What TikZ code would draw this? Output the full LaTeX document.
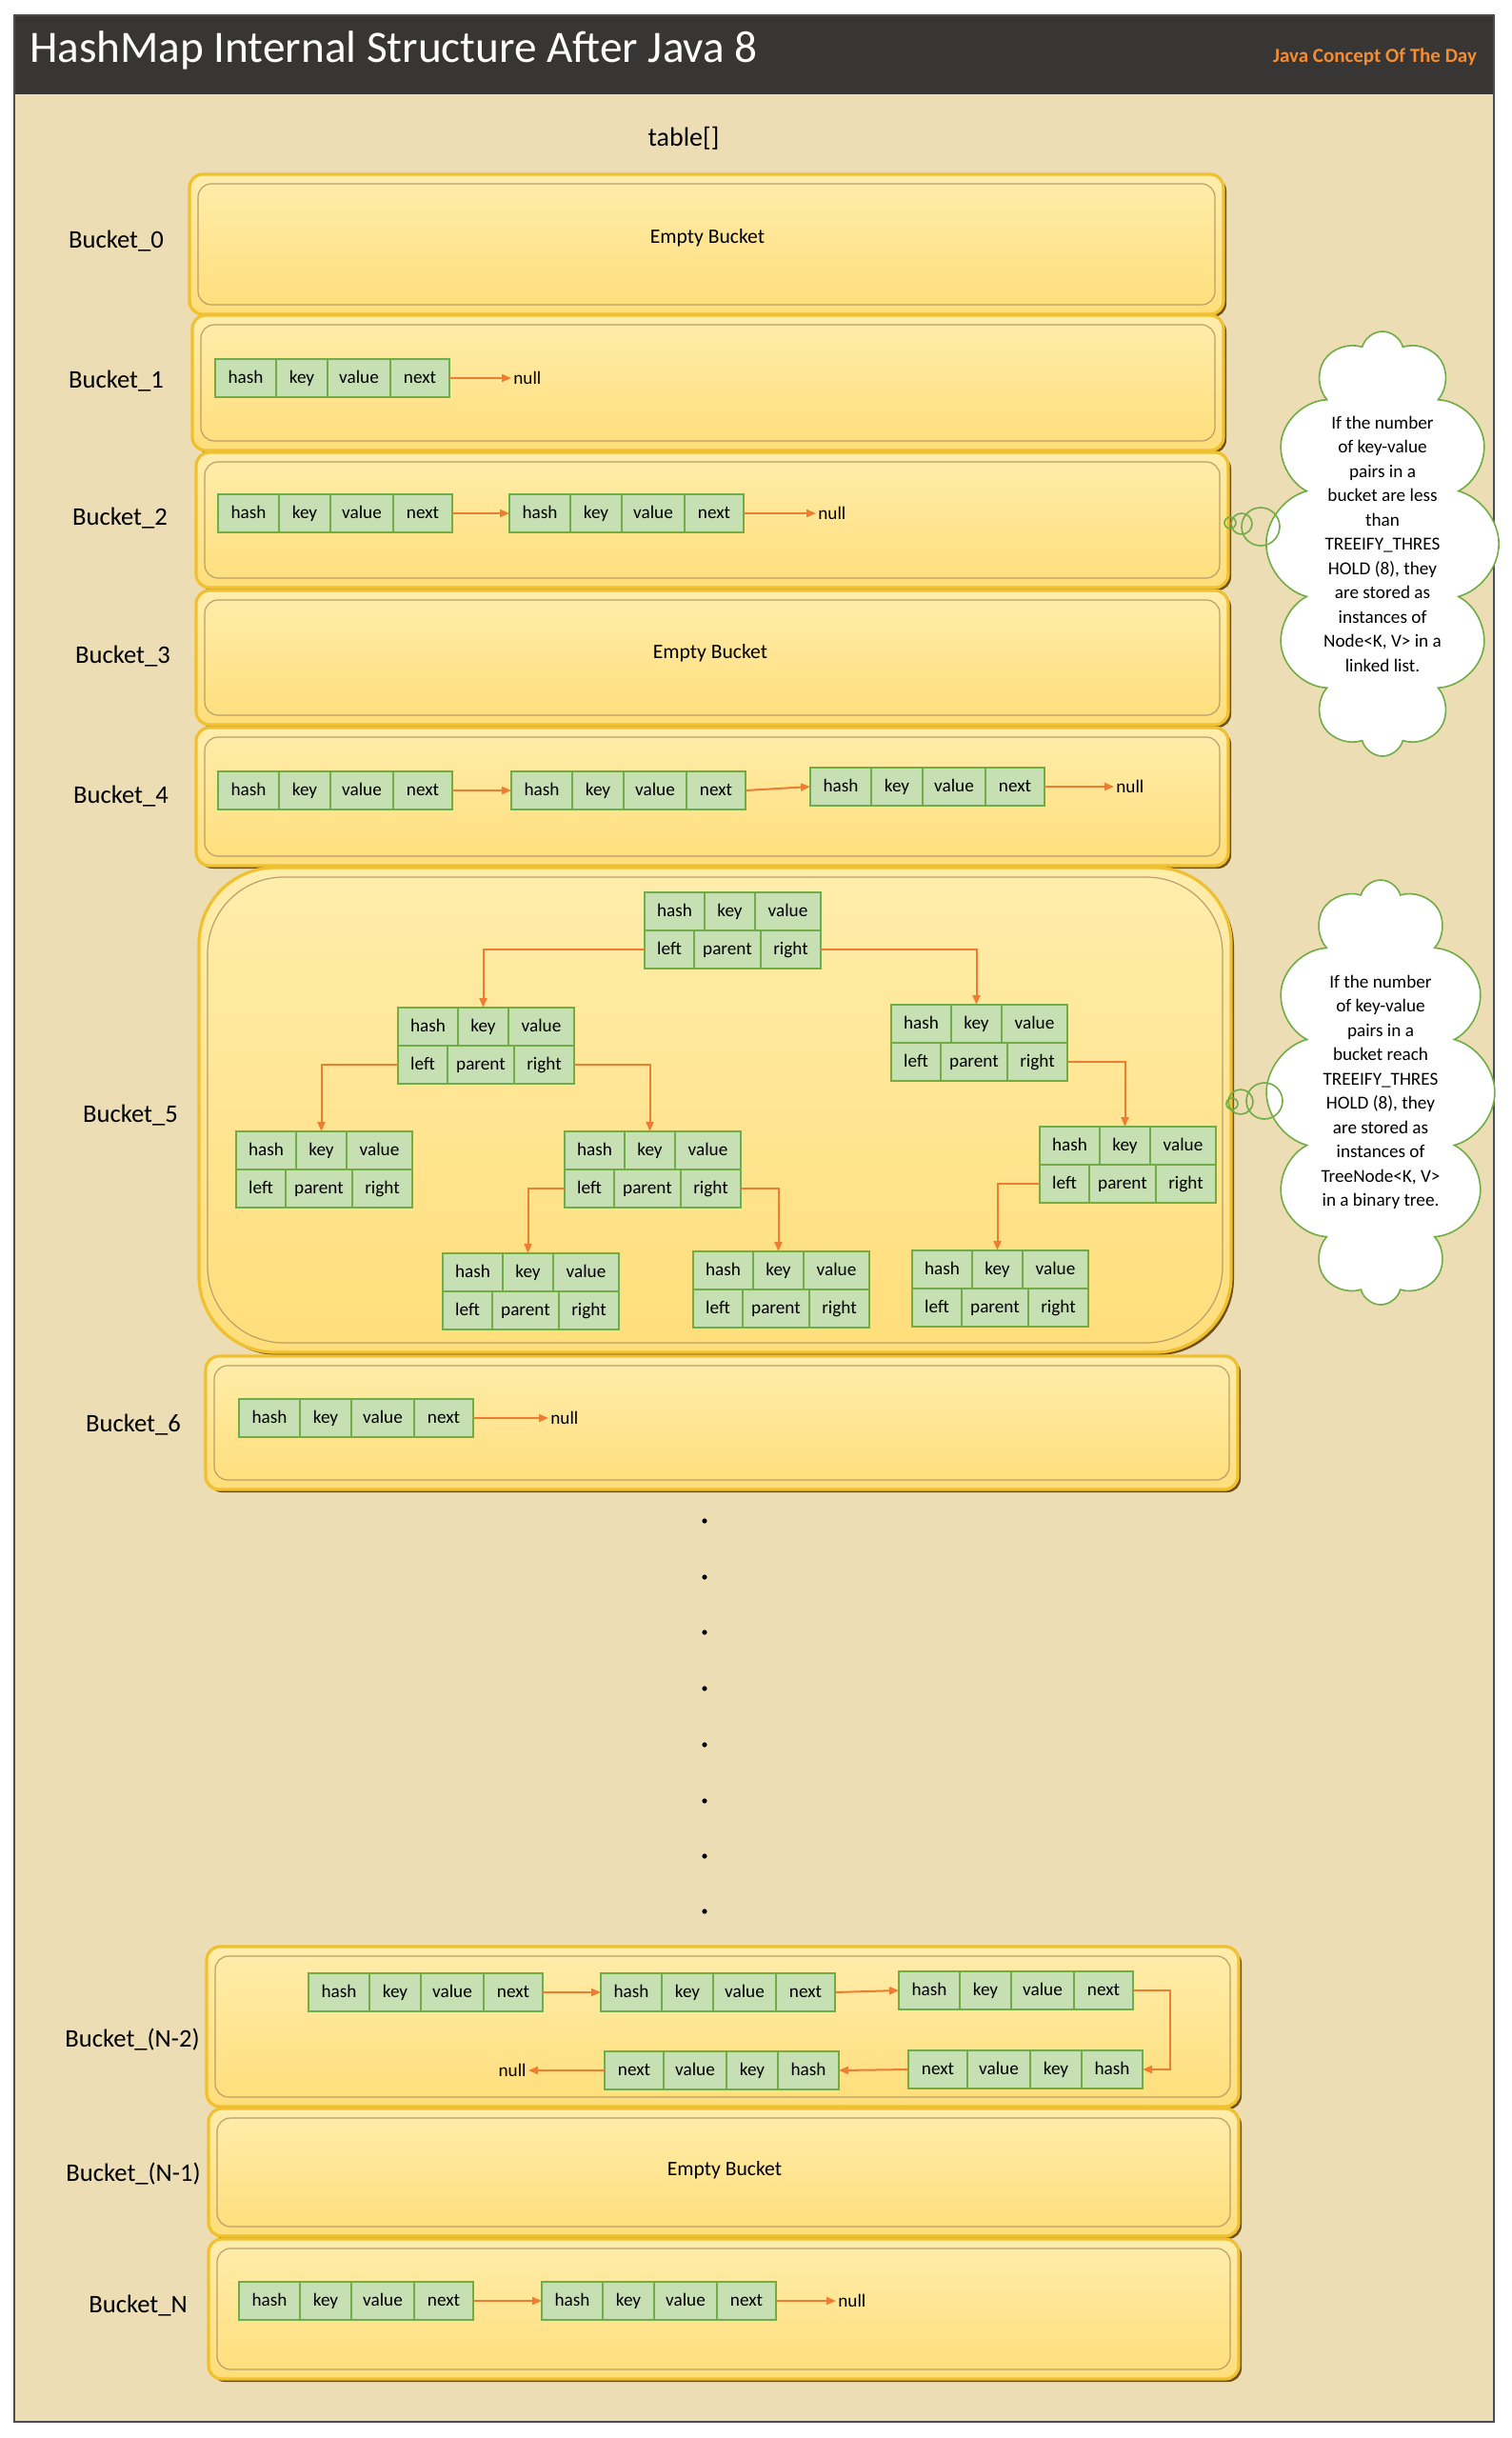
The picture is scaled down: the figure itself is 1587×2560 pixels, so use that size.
\documentclass[tikz,border=0pt]{standalone}
\usepackage{fontspec}
\setmainfont{Carlito}
\usetikzlibrary{arrows.meta,positioning,shapes.symbols,calc}
\definecolor{mapbar}{RGB}{56,54,52}
\definecolor{mappaper}{RGB}{236,221,180}
\definecolor{mapgold}{RGB}{240,192,48}
\definecolor{mapedge}{RGB}{110,80,20}
\definecolor{mapinset}{RGB}{185,160,105}
\definecolor{maptop}{RGB}{255,237,172}
\definecolor{mapbottom}{RGB}{255,222,122}
\definecolor{cellfill}{RGB}{198,224,180}
\definecolor{celldraw}{RGB}{112,173,71}
\definecolor{linkorange}{RGB}{237,125,49}
\definecolor{brandorange}{RGB}{244,140,50}

% one entry of a bucket list: hash | key | value | next
\newcommand{\listnode}[2]{%
  \node[cell,anchor=west,minimum width=32pt] (#1h) at (#2) {hash};
  \node[cell,right=0pt of #1h,minimum width=27pt] (#1k) {key};
  \node[cell,right=0pt of #1k,minimum width=33pt] (#1v) {value};
  \node[cell,right=0pt of #1v,minimum width=31pt] (#1n) {next};
}
% same entry written backwards: next | value | key | hash
\newcommand{\backnode}[2]{%
  \node[cell,anchor=west,minimum width=31pt] (#1n) at (#2) {next};
  \node[cell,right=0pt of #1n,minimum width=33pt] (#1v) {value};
  \node[cell,right=0pt of #1v,minimum width=27pt] (#1k) {key};
  \node[cell,right=0pt of #1k,minimum width=32pt] (#1h) {hash};
}
% tree entry, two rows
\newcommand{\treenode}[2]{%
  \node[cell,anchor=north west,minimum width=31.5pt] (#1h) at (#2) {hash};
  \node[cell,right=0pt of #1h,minimum width=26.5pt] (#1k) {key};
  \node[cell,right=0pt of #1k,minimum width=34.5pt] (#1v) {value};
  \node[cell,anchor=north west,minimum width=26pt] (#1l) at (#1h.south west) {left};
  \node[cell,right=0pt of #1l,minimum width=35pt] (#1p) {parent};
  \node[cell,right=0pt of #1p,minimum width=31.5pt] (#1r) {right};
}
% golden bucket panel: radius, top left, bottom right
\newcommand{\bucketbox}[3]{%
  \fill[mapedge,rounded corners=#1] ($(#2)+(3,3)$) rectangle ($(#3)+(3,3)$);
  \shadedraw[top color=maptop,bottom color=mapbottom,draw=mapgold,line width=1.6pt,rounded corners=#1] (#2) rectangle (#3);
  \draw[mapinset,line width=0.6pt,rounded corners=#1] ($(#2)+(9,10)$) rectangle ($(#3)-(9,10)$);
}

\begin{document}
\begin{tikzpicture}[
  x=0.5pt,y=-0.5pt,
  cell/.style={draw=celldraw,fill=cellfill,line width=0.6pt,minimum height=20pt,
    inner sep=1pt,outer sep=0pt,text height=7pt,text depth=2pt,font=\fontsize{9.6}{11}\selectfont},
  link/.style={-{Triangle[length=5pt,width=4pt]},draw=linkorange,line width=1pt},
  nulltext/.style={inner sep=1pt,font=\fontsize{9.6}{11}\selectfont},
  bucketlabel/.style={font=\fontsize{13.3}{15}\selectfont},
  emptytext/.style={font=\fontsize{10.8}{13}\selectfont},
  note/.style={cloud,cloud puffs=12,cloud ignores aspect,draw=celldraw,fill=white,line width=0.8pt,
    minimum width=117pt,minimum height=223pt,inner sep=0pt,align=center,
    font=\fontsize{9.6}{12.75}\selectfont},
  bubble/.style={circle,draw=celldraw,line width=0.8pt,inner sep=0pt}
]
\useasboundingbox (0,0) rectangle (1587,2560);
\fill[white] (0,0) rectangle (1587,2560);
\fill[mappaper] (15,99) rectangle (1569,2543);
\fill[mapbar] (15,16) rectangle (1569,99);
\draw[black!70,line width=1pt] (15,16) rectangle (1569,2543);

\node[anchor=base west,text=white,font=\fontsize{23.6}{28}\selectfont] (title) at (24,65) {HashMap Internal Structure After Java 8};
\node[anchor=base east,text=brandorange,font=\bfseries\fontsize{10.5}{12}\selectfont] (brand) at (1558,65) {Java Concept Of The Day};
\node[anchor=base,font=\fontsize{14}{16}\selectfont] (table) at (718,153) {table[]};

% buckets
\bucketbox{7pt}{199,183}{1285,330}
\bucketbox{7pt}{202,331}{1285,473}
\bucketbox{7pt}{206,475}{1290,617}
\bucketbox{7pt}{206,620}{1290,761}
\bucketbox{7pt}{206,764}{1290,909}
\bucketbox{40pt}{209,911}{1293,1420}
\bucketbox{7pt}{216,1424}{1300,1564}
\bucketbox{7pt}{217,2044}{1301,2212}
\bucketbox{7pt}{219,2214}{1301,2348}
\bucketbox{7pt}{219,2351}{1301,2498}

\node[bucketlabel] (lab0) at (122,253) {Bucket\_0};
\node[bucketlabel] (lab1) at (122,400) {Bucket\_1};
\node[bucketlabel] (lab2) at (126,544) {Bucket\_2};
\node[bucketlabel] (lab3) at (129,689) {Bucket\_3};
\node[bucketlabel] (lab4) at (127,836) {Bucket\_4};
\node[bucketlabel] (lab5) at (137,1171) {Bucket\_5};
\node[bucketlabel] (lab6) at (140,1496) {Bucket\_6};
\node[bucketlabel] (labn2) at (139,2142) {Bucket\_(N-2)};
\node[bucketlabel] (labn1) at (140,2283) {Bucket\_(N-1)};
\node[bucketlabel] (labn) at (145,2421) {Bucket\_N};

\node[emptytext] (empty0) at (743,250) {Empty Bucket};
\node[emptytext] (empty3) at (746,686) {Empty Bucket};
\node[emptytext] (emptyn1) at (761,2279) {Empty Bucket};

% Bucket_1
\listnode{b1a}{226,397}
\node[nulltext,anchor=west] (b1null) at (537,397) {null};
\draw[link] (b1an.east) -- (b1null.west);

% Bucket_2
\listnode{b2a}{229,539}
\listnode{b2b}{535,539}
\node[nulltext,anchor=west] (b2null) at (857,539) {null};
\draw[link] (b2an.east) -- (b2bh.west);
\draw[link] (b2bn.east) -- (b2null.west);

% Bucket_4
\listnode{b4a}{229,830}
\listnode{b4b}{537,830}
\listnode{b4c}{851,826}
\node[nulltext,anchor=west] (b4null) at (1170,826) {null};
\draw[link] (b4an.east) -- (b4bh.west);
\draw[link] (b4bn.east) -- (b4ch.west);
\draw[link] (b4cn.east) -- (b4null.west);

% Bucket_5 (tree)
\treenode{root}{677,937}
\treenode{tl}{418,1058}
\treenode{tr}{936,1055}
\treenode{tll}{248,1188}
\treenode{tlr}{593,1188}
\treenode{tlrl}{465,1316}
\treenode{tlrr}{728,1314}
\treenode{trr}{1092,1183}
\treenode{trrl}{958,1313}
\draw[link] (rootl.west) -| (tlk.north);
\draw[link] (rootr.east) -| (trk.north);
\draw[link] (tll.west) -| (tllk.north);
\draw[link] (tlr.east) -| (tlrk.north);
\draw[link] (tlrl.west) -| (tlrlk.north);
\draw[link] (tlrr.east) -| (tlrrk.north);
\draw[link] (trr.east) -| (trrk.north);
\draw[link] (trrl.west) -| (trrlk.north);

% Bucket_6
\listnode{b6a}{251,1489}
\node[nulltext,anchor=west] (b6null) at (576,1489) {null};
\draw[link] (b6an.east) -- (b6null.west);

% dots
\foreach \dy in {1597,1656,1714,1773,1832,1891,1949,2007}
  \fill (740,\dy) circle[radius=1.3pt];

% Bucket_(N-2)
\listnode{bma}{324,2092}
\listnode{bmb}{631,2092}
\listnode{bmc}{944,2090}
\backnode{bmd}{954,2173}
\backnode{bme}{635,2174}
\node[nulltext,anchor=east] (bmnull) at (555,2174) {null};
\draw[link] (bman.east) -- (bmbh.west);
\draw[link] (bmbn.east) -- (bmch.west);
\draw[link] (bmcn.east) -- ++(39,0) |- (bmdh.east);
\draw[link] (bmdn.west) -- (bmeh.east);
\draw[link] (bmen.west) -- (bmnull.east);

% Bucket_N
\listnode{bna}{251,2416}
\listnode{bnb}{569,2416}
\node[nulltext,anchor=west] (bnnull) at (878,2416) {null};
\draw[link] (bnan.east) -- (bnbh.west);
\draw[link] (bnbn.east) -- (bnnull.west);

% notes
\node[note] (listnote) at (1452,571) {If the number\\of key-value\\pairs in a\\bucket are less\\than\\TREEIFY\_THRES\\HOLD (8), they\\are stored as\\instances of\\Node<K, V> in a\\linked list.};
\node[note] (treenote) at (1450,1147) {If the number\\of key-value\\pairs in a\\bucket reach\\TREEIFY\_THRES\\HOLD (8), they\\are stored as\\instances of\\TreeNode<K, V>\\in a binary tree.};
\node[bubble,minimum size=20pt] (lbig) at (1324,553) {};
\node[bubble,minimum size=11pt] (lmid) at (1304,550) {};
\node[bubble,minimum size=6pt] (lsmall) at (1292,549) {};
\node[bubble,minimum size=19pt] (tbig) at (1328,1156) {};
\node[bubble,minimum size=13pt] (tmid) at (1303,1157) {};
\node[bubble,minimum size=6pt] (tsmall) at (1294,1159) {};
\end{tikzpicture}
\end{document}
